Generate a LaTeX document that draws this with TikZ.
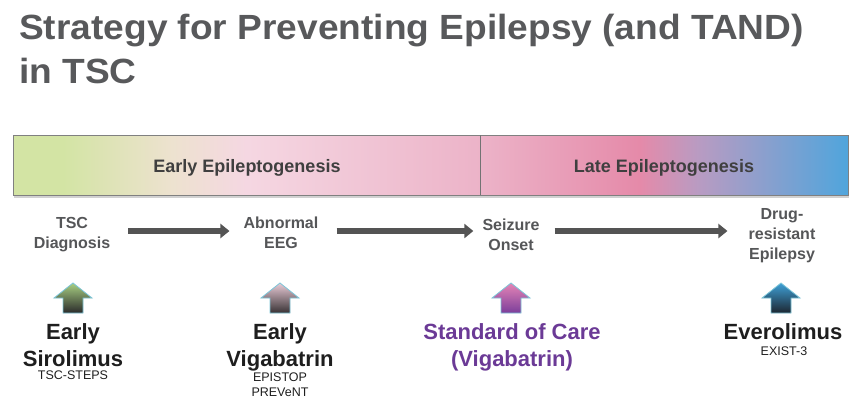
\documentclass[tikz,border=0pt]{standalone}
\usepackage{fontspec}
\setmainfont{Liberation Sans}
\newfontfamily\titlefont[FakeStretch=1.06]{Liberation Sans}
\usepackage{xcolor}
\usepackage{tikz}
\usetikzlibrary{arrows.meta, positioning, calc}

\definecolor{titlegray}{HTML}{58595B}
\definecolor{textgray}{HTML}{555658}
\definecolor{phasegray}{HTML}{3F3F3F}
\definecolor{flowgray}{HTML}{545454}
\definecolor{drugblack}{HTML}{1E1E1E}
\definecolor{socpurple}{HTML}{6B3A96}
\definecolor{rimblue}{HTML}{7CC5D8}
\definecolor{barA}{HTML}{D3E4A4}
\definecolor{barB}{HTML}{EDE2CF}
\definecolor{barC}{HTML}{F5D7E2}
\definecolor{barD}{HTML}{ECB3C8}
\definecolor{barE}{HTML}{E58AA9}
\definecolor{barF}{HTML}{B99BC2}
\definecolor{barG}{HTML}{50A5DC}
\definecolor{siroTop}{HTML}{A8CF82}
\definecolor{siroBot}{HTML}{2A2A2A}
\definecolor{vigaTop}{HTML}{E8CAD6}
\definecolor{vigaBot}{HTML}{383234}
\definecolor{socTop}{HTML}{E585B6}
\definecolor{socBot}{HTML}{7B3E9A}
\definecolor{everTop}{HTML}{3E9FD6}
\definecolor{everBot}{HTML}{1C2630}

\pgfdeclarehorizontalshading{epishade}{100bp}{color(0bp)=(barA); color(25bp)=(barA);
  color(28bp)=(barA); color(34.5bp)=(barB); color(39bp)=(barC); color(53bp)=(barD);
  color(62.5bp)=(barE); color(66bp)=(barF); color(75bp)=(barG); color(100bp)=(barG)}

\begin{document}
\begin{tikzpicture}[x=1pt, y=-1pt,
        title/.style={anchor=north west, align=left, inner sep=0pt, text=titlegray, font={\titlefont\fontsize{35}{44}\selectfont\bfseries}},
        phase/.style={anchor=base, inner sep=0pt, text=phasegray, font={\fontsize{18}{22}\selectfont\bfseries}},
        stage/.style={anchor=north, align=center, inner sep=0pt, text=textgray, font={\fontsize{16}{20}\selectfont\bfseries}},
        drug/.style={anchor=north, align=center, inner sep=0pt, text=drugblack, font={\fontsize{22}{27}\selectfont\bfseries}},
        trial/.style={anchor=north, align=center, inner sep=0pt, text=drugblack, font={\fontsize{12.5}{15}\selectfont}},
        flow/.style={line width=6.5pt, draw=flowgray, -{Triangle[length=9pt, width=14pt]}},
        boost/.style={draw=rimblue, line width=0.8pt, line join=miter}
    ]
        \useasboundingbox (0,0) rectangle (860,408);
        % Title
        \node (title) [title] at (19,14) {Strategy for Preventing Epilepsy (and TAND)\\in TSC};
        % Phase bar
        \fill[black!18] (14,195) rectangle (849,198);
        \draw[draw=black!50, line width=0.8pt, shading=epishade] (13,135) rectangle (848,195);
        \draw[draw=black!55, line width=0.8pt] (480,135) -- (480,195);
        \node (early) [phase] at (247,172) {Early Epileptogenesis};
        \node (late) [phase] at (664,172) {Late Epileptogenesis};
        % Stages
        \node (diag) [stage] at (72,217) {TSC\\Diagnosis};
        \node (eeg) [stage] at (281,217) {Abnormal\\EEG};
        \node (onset) [stage] at (511,219) {Seizure\\Onset};
        \node (resist) [stage] at (782,208) {Drug-\\resistant\\Epilepsy};
        \coordinate (lane) at (0,231);
        \draw [flow] ([xshift=18pt]diag.east |- lane) -- ([xshift=-14pt]eeg.west |- lane);
        \draw [flow] ([xshift=18pt]eeg.east |- lane) -- ([xshift=-9pt]onset.west |- lane);
        \draw [flow] ([xshift=15pt]onset.east |- lane) -- ([xshift=-21pt]resist.west |- lane);
        % Treatment arrows
        \draw [boost, top color=siroTop, bottom color=siroBot] (73,283) -- ++(19,15) -- ++(-9,0) -- ++(0,15) -- ++(-20,0) -- ++(0,-15) -- ++(-9,0) -- cycle;
        \draw [boost, top color=vigaTop, bottom color=vigaBot] (280,283) -- ++(19,15) -- ++(-9,0) -- ++(0,15) -- ++(-20,0) -- ++(0,-15) -- ++(-9,0) -- cycle;
        \draw [boost, top color=socTop, bottom color=socBot] (511,283) -- ++(19,15) -- ++(-9,0) -- ++(0,15) -- ++(-20,0) -- ++(0,-15) -- ++(-9,0) -- cycle;
        \draw [boost, top color=everTop, bottom color=everBot] (781,283) -- ++(19,15) -- ++(-9,0) -- ++(0,15) -- ++(-20,0) -- ++(0,-15) -- ++(-9,0) -- cycle;
        % Treatments
        \node (siro) [drug] at (73,323) {Early\\Sirolimus};
        \node (steps) [trial] at (73,371) {TSC-STEPS};
        \node (viga) [drug] at (280,323) {Early\\Vigabatrin};
        \node (epistop) [trial] at (280,373) {EPISTOP\\PREVeNT};
        \node (soc) [drug, text=socpurple] at (512,323) {Standard of Care\\(Vigabatrin)};
        \node (evero) [drug] at (783,323) {Everolimus};
        \node (exist) [trial] at (784,347) {EXIST-3};
\end{tikzpicture}
\end{document}
